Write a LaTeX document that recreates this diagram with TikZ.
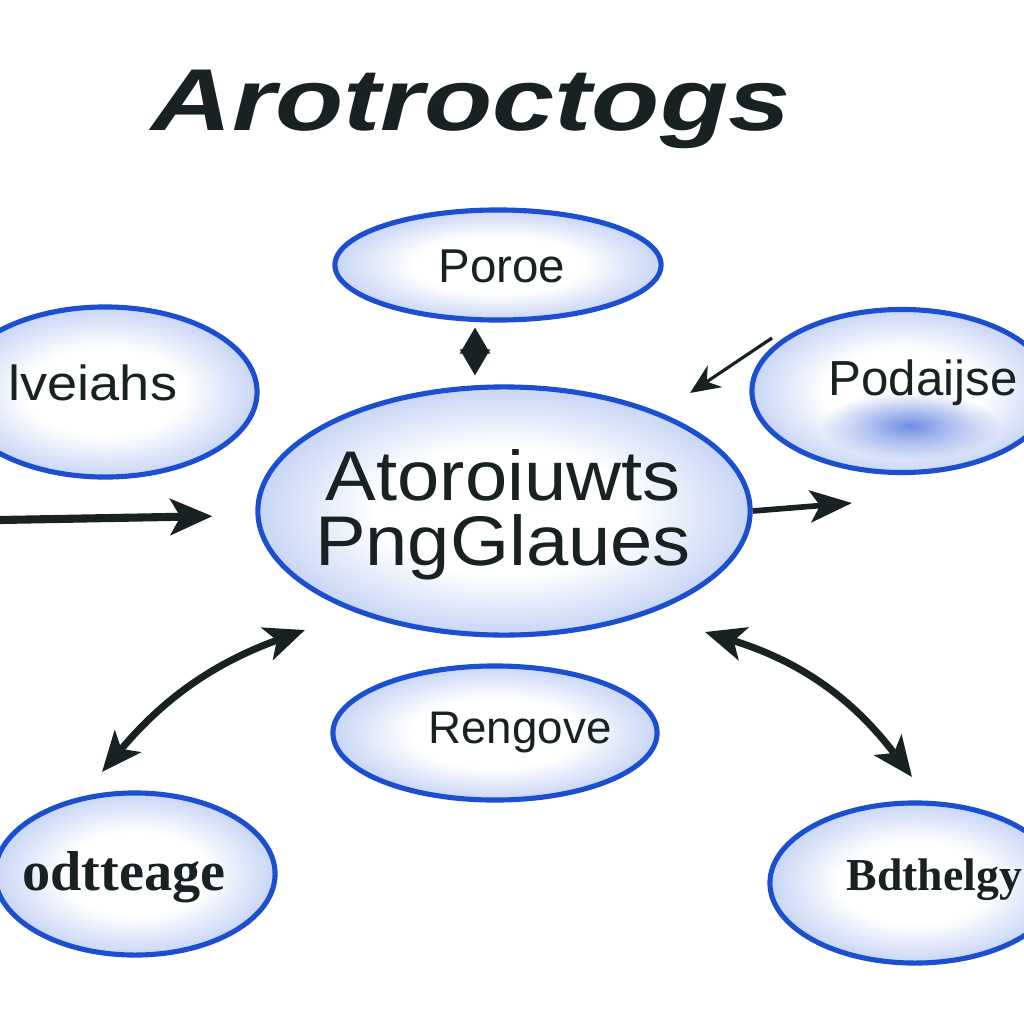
\documentclass[tikz,border=0pt]{standalone}
\usepackage{fontspec}
\setmainfont{Liberation Sans}
\newfontfamily\serifhand{Liberation Serif}
\usetikzlibrary{shapes,arrows.meta,fadings}
\definecolor{ringblue}{RGB}{28,78,208}
\definecolor{paleblue}{RGB}{200,213,245}
\definecolor{ink}{RGB}{24,34,34}
\definecolor{glowblue}{RGB}{95,128,225}
\pgfdeclareradialshading{rimglow}{\pgfpoint{0bp}{0bp}}{color(0bp)=(white); color(13bp)=(white);
  color(25bp)=(paleblue); color(50bp)=(paleblue)}
\tikzfading[name=softglow,inner color=transparent!10,outer color=transparent!100]

\begin{document}
\begin{tikzpicture}[x=0.01cm,y=-0.01cm,
  every ellipse node/.append style={draw=ringblue,line width=1.45pt,inner sep=0pt,shade,shading=rimglow},
  arr/.style={draw=ink,line width=2pt,-{Stealth[length=0.42cm,width=0.36cm,inset=0.1cm]}},
  twohead/.style={draw=ink,line width=2pt,
    {Stealth[length=0.4cm,width=0.34cm,inset=0.1cm]}-{Stealth[length=0.4cm,width=0.34cm,inset=0.1cm]}}]
  \tikzstyle{word} = [text=ink,font=\fontsize{14}{16}\selectfont,inner sep=0pt]
  \fill[white] (0,0) rectangle (1024,1024);
  \useasboundingbox (0,0) rectangle (1024,1024);
  \node (t_head) [word,anchor=base,xscale=1.27,font=\fontsize{25}{28}\selectfont\bfseries\itshape] at (471,130) {Arotroctogs};

  \node (n_top) [ellipse,minimum width=3.26cm,minimum height=1.1cm] at (498,265) {};
  \node (n_left) [ellipse,minimum width=3.04cm,minimum height=1.7cm] at (105,392) {};
  \node (n_right) [ellipse,minimum width=3cm,minimum height=1.63cm] at (902,391) {};
  \node (c_main) [ellipse,minimum width=4.92cm,minimum height=2.48cm] at (504,511) {};
  \node (n_mid) [ellipse,minimum width=3.24cm,minimum height=1.34cm] at (495,733) {};
  \node (n_botl) [ellipse,minimum width=2.8cm,minimum height=1.62cm] at (135,874) {};
  \node (n_botr) [ellipse,minimum width=2.9cm,minimum height=1.6cm] at (915,883) {};
  \fill[glowblue,path fading=softglow] (910,426) ellipse (90 and 34);

  \node (w_top) [word,anchor=base,font=\fontsize{13.5}{16}\selectfont] at (502,282) {Poroe};
  \node (w_left) [word,anchor=base east,xscale=1.1] at (178,400) {lveiahs};
  \node (w_right) [word,anchor=base west,font=\fontsize{14}{17}\selectfont] at (828,395) {Podaijse};
  \node (w_main) [word,align=center,xscale=1.08,font=\fontsize{20}{18.5}\selectfont] at (503,515) {Atoroiuwts\\PngGlaues};
  \node (w_mid) [word,anchor=base,font=\fontsize{13}{16}\selectfont] at (520,743) {Rengove};
  \node (w_botl) [word,anchor=base,font=\fontsize{16}{18}\selectfont\serifhand\bfseries] at (124,890) {odtteage};
  \node (w_botr) [word,anchor=base west,font=\fontsize{13}{16}\selectfont\serifhand\bfseries] at (846,890) {Bdthelgy};

  \coordinate (l_in) at (0,520);
  \coordinate (tr_a) at (772,338);
  \coordinate (tr_b) at (690,393);
  \coordinate (r_tip) at (852,503);
  \coordinate (bl_a) at (305,630);
  \coordinate (bl_b) at (102,772);
  \coordinate (br_a) at (705,632);
  \coordinate (br_b) at (912,777);

  \draw[arr,line width=2.3pt,shorten >=0.43cm] (l_in) -- (c_main);
  \draw[ink,line width=0.6pt,{Triangle[length=0.26cm,width=0.3cm]}-{Triangle[length=0.26cm,width=0.3cm]},
    shorten <=0.05cm,shorten >=0.09cm] ([xshift=-0.23cm]n_top.south) -- ([xshift=-0.29cm]c_main.north);
  \draw[arr,line width=0.9pt,-{Stealth[length=0.3cm,width=0.26cm]}] (tr_a) -- (tr_b);
  \draw[arr,line width=1.6pt,-{Stealth[length=0.42cm,width=0.32cm,inset=0.1cm]}] (c_main.east) -- (r_tip);
  \draw[twohead] (bl_a) to[bend right=15] (bl_b);
  \draw[twohead] (br_a) to[bend left=18] (br_b);
\end{tikzpicture}
\end{document}
